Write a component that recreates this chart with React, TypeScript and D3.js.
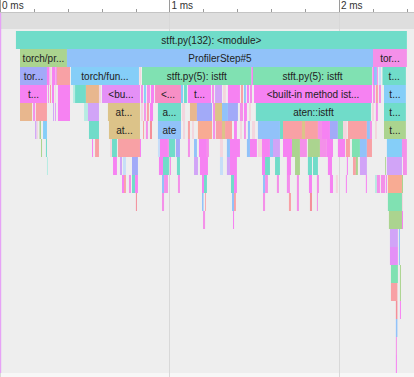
import React from "react";
import * as d3 from "d3";

// Time axis (microseconds) and ruler labels
const visibleRangeUs = [0, 2443];
const majorTicksMs = [0, 1, 2];
const tickLabels = ["0 ms", "1 ms", "2 ms"];
const minorStepMs = 0.2;

// Frame colour categories
const palette = [
  "#70dcc9", // 0 teal
  "#abd48f", // 1 olive
  "#91c2f9", // 2 blue
  "#f490e9", // 3 pink
  "#a2aaf8", // 4 lavender
  "#f682f2", // 5 magenta
  "#f8a1a5", // 6 salmon
  "#85cef8", // 7 light blue
  "#80e1b2", // 8 green
  "#e8b78e", // 9 tan
  "#e490f6", // 10 violet
  "#f78fc5", // 11 rose
  "#dcc389", // 12 khaki
  "#d1a4f7", // 13 lavender2
  "#f8ab93", // 14 salmon orange
  "#f3d6de", // 15 pale
  "#f48f9a", // 16 red
  "#c6def8", // 17 pale blue
  "#b6ece2", // 18 pale teal
];

// Frames per depth: [startUs, endUs, category, label]
type F = [number, number, number, string?];
const row0: F[] = [[94, 2401, 0, "stft.py(132): <module>"]];
const row1: F[] = [
  [118, 395, 1, "torch/pr..."],
  [395, 2201, 2, "ProfilerStep#5"],
  [2201, 2401, 3, "tor..."],
];
const row2: F[] = [
  [118, 277, 4, "tor..."], [277, 292, 5], [295, 304, 15], [307, 325, 5], [327, 336, 3],
  [336, 413, 6], [419, 820, 7, "torch/fun..."], [823, 832, 15],
  [838, 1484, 8, "stft.py(5): istft"], [1484, 1493, 5],
  [1493, 2195, 8, "stft.py(5): istft"], [2198, 2207, 5], [2207, 2224, 2],
  [2224, 2230, 3], [2236, 2248, 17], [2257, 2395, 0, "t..."],
];
const row3: F[] = [
  [118, 277, 5, "t..."], [283, 289, 3], [295, 301, 6], [307, 319, 5], [325, 330, 15],
  [342, 413, 5], [431, 443, 18], [443, 507, 0], [507, 584, 9], [584, 596, 15],
  [602, 826, 10, "<bu..."], [832, 844, 3], [850, 861, 7], [867, 885, 3], [891, 909, 5],
  [915, 1068, 11, "<..."], [1068, 1080, 7], [1086, 1103, 0], [1109, 1245, 5, "t..."],
  [1251, 1263, 3], [1269, 1310, 13], [1316, 1333, 15], [1345, 1416, 5], [1422, 1434, 6],
  [1440, 1451, 2], [1457, 1469, 5], [1475, 1487, 3],
  [1499, 2195, 5, "<built-in method ist..."], [2201, 2213, 3], [2218, 2230, 6],
  [2236, 2248, 3], [2266, 2395, 7, "t..."],
];
const row4: F[] = [
  [118, 189, 9], [195, 207, 3], [212, 277, 6], [313, 319, 13], [325, 330, 10],
  [342, 413, 5], [496, 519, 18], [519, 584, 13], [637, 826, 12, "at..."], [832, 844, 15],
  [850, 861, 3], [867, 879, 6], [885, 903, 5], [932, 1068, 0, "a..."], [1074, 1092, 15],
  [1121, 1162, 9], [1162, 1251, 4], [1257, 1269, 3], [1269, 1310, 12], [1310, 1345, 2],
  [1345, 1404, 4], [1416, 1434, 3], [1440, 1457, 5], [1469, 1481, 15],
  [1510, 2189, 0, "aten::istft"], [2195, 2207, 15], [2218, 2230, 3],
  [2266, 2395, 0, "t..."],
];
const row5: F[] = [
  [207, 215, 13], [218, 224, 15], [233, 242, 1], [254, 277, 7], [525, 584, 0],
  [643, 826, 12, "at..."], [844, 850, 6], [861, 873, 3], [885, 897, 16],
  [932, 1068, 2, "ate"], [1080, 1092, 15], [1109, 1121, 6], [1133, 1145, 15],
  [1168, 1251, 14], [1257, 1269, 3], [1274, 1310, 6], [1310, 1328, 12], [1328, 1369, 6],
  [1381, 1398, 5], [1416, 1428, 15], [1440, 1451, 3], [1463, 1475, 2], [1487, 1505, 15],
  [1522, 1652, 2], [1652, 1670, 0], [1670, 1782, 6], [1782, 1800, 12], [1800, 1876, 6],
  [1876, 1900, 3], [1900, 1947, 5], [1947, 1994, 4], [1994, 2024, 8], [2024, 2047, 15],
  [2053, 2165, 6], [2165, 2183, 2], [2183, 2195, 3], [2213, 2224, 15],
  [2266, 2395, 1, "t..."],
];
const row6: F[] = [
  [242, 248, 1], [271, 277, 0], [543, 549, 5], [561, 584, 6], [649, 661, 15],
  [661, 690, 0], [696, 826, 6], [826, 832, 5], [932, 944, 17], [944, 991, 5],
  [991, 997, 3], [997, 1033, 0], [1038, 1062, 4], [1109, 1121, 3], [1145, 1162, 2],
  [1174, 1221, 5], [1221, 1233, 3], [1298, 1316, 15], [1339, 1357, 2], [1357, 1416, 5],
  [1457, 1475, 2], [1475, 1516, 5], [1522, 1546, 15], [1546, 1593, 5], [1593, 1611, 2],
  [1611, 1652, 13], [1670, 1723, 5], [1723, 1770, 1], [1770, 1811, 3], [1817, 1888, 1],
  [1888, 1929, 3], [1929, 1965, 5], [1994, 2036, 5], [2041, 2065, 6], [2077, 2124, 8],
  [2124, 2165, 2], [2165, 2195, 6], [2283, 2372, 7], [2372, 2401, 3],
];
const row7: F[] = [
  [277, 283, 18], [667, 690, 5], [708, 720, 13], [726, 743, 17], [779, 814, 4],
  [938, 962, 5], [962, 997, 0], [1003, 1009, 3], [1044, 1062, 0], [1145, 1168, 13],
  [1180, 1227, 5], [1298, 1316, 17], [1339, 1357, 13], [1357, 1398, 5], [1546, 1564, 5],
  [1564, 1593, 0], [1623, 1652, 0], [1693, 1717, 5], [1741, 1770, 1], [1817, 1841, 0],
  [1847, 1876, 0], [1935, 1959, 5], [2047, 2053, 5], [2083, 2100, 6], [2100, 2112, 1],
  [2124, 2165, 13], [2272, 2277, 1], [2283, 2372, 13], [2378, 2401, 3],
];
const row8: F[] = [
  [720, 732, 5], [732, 743, 6], [761, 773, 3], [779, 797, 0], [797, 814, 5],
  [956, 968, 2], [968, 991, 3], [1050, 1062, 3], [1192, 1204, 5], [1204, 1221, 0],
  [1363, 1381, 0], [1381, 1398, 5], [1552, 1564, 2], [1564, 1581, 3], [1634, 1646, 3],
  [1693, 1699, 5], [1699, 1711, 3], [1752, 1764, 3], [1823, 1841, 5], [1870, 1882, 3],
  [1947, 1965, 5], [1982, 1994, 15], [2041, 2047, 5], [2159, 2165, 5], [2213, 2224, 18],
  [2224, 2242, 3], [2248, 2272, 3], [2277, 2283, 5], [2289, 2372, 14], [2372, 2378, 1],
];
const row9: F[] = [
  [802, 808, 16], [956, 968, 3], [1192, 1201, 2], [1210, 1215, 6], [1369, 1381, 2],
  [1381, 1392, 6], [1552, 1564, 3], [1705, 1717, 6], [1752, 1764, 3], [1829, 1841, 16],
  [1870, 1876, 3], [2289, 2372, 8], [2372, 2378, 15],
];
const row10: F[] = [[1198, 1210, 3], [1375, 1381, 5], [2295, 2372, 1], [2372, 2378, 5]];
const row11: F[] = [[2301, 2348, 13], [2354, 2360, 2]];
const row12: F[] = [[2301, 2348, 10], [2354, 2360, 2]];
const row13: F[] = [[2307, 2348, 8], [2360, 2366, 1]];
const row14: F[] = [[2307, 2345, 6], [2360, 2366, 1]];
const row15: F[] = [[2336, 2345, 16], [2360, 2366, 5]];
const row16: F[] = [[2336, 2345, 2]];
const row17: F[] = [[2336, 2342, 3]];
const row18: F[] = [[2336, 2342, 5]];

const rows: F[][] = [
  row0, row1, row2, row3, row4, row5, row6, row7, row8, row9,
  row10, row11, row12, row13, row14, row15, row16, row17, row18,
];

const W = 414;
const H = 377;
const FONT = "'Liberation Sans', Arial, Helvetica, sans-serif";

export default function App() {
  const x = d3.scaleLinear().domain(visibleRangeUs).range([0, W]);
  const rowH = 18;
  const top = 31;
  const y = d3.scaleLinear().domain([0, 1]).range([top, top + rowH]);
  const chartBottom = y(rows.length);
  const minor = d3.range(0, visibleRangeUs[1] / 1000, minorStepMs);

  return (
    <svg
      width={W}
      height={H}
      style={{ position: "fixed", left: 0, top: 0, display: "block" }}
      fontFamily={FONT}
    >
      <rect x={0} y={0} width={W} height={H} fill="#ffffff" />
      {/* chart background */}
      <rect x={0} y={13} width={W} height={16.5} fill="#dedede" />
      <rect x={0} y={29.5} width={W} height={chartBottom - 29.5} fill="#eeeeee" />
      <rect x={0} y={chartBottom} width={W} height={H - chartBottom} fill="#f7f7f7" />
      {/* grid lines */}
      {majorTicksMs.map((ms) => (
        <line
          key={"g" + ms}
          x1={Math.round(x(ms * 1000)) + 0.5}
          x2={Math.round(x(ms * 1000)) + 0.5}
          y1={13}
          y2={H}
          stroke="#d8d8d8"
          strokeWidth={1}
        />
      ))}
      {/* frames */}
      {rows.map((row, depth) =>
        row.map(([s, e, c, label], i) => {
          const x0 = x(s);
          const x1 = x(e);
          return (
            <g key={depth + "-" + i}>
              <rect x={x0} y={y(depth)} width={x1 - x0} height={rowH} fill={palette[c]} />
              {label ? (
                <text
                  x={(x0 + x1) / 2}
                  y={y(depth) + 12.5}
                  textAnchor="middle"
                  fontSize={10}
                  fill="#222"
                >
                  {label}
                </text>
              ) : null}
            </g>
          );
        })
      )}
      {/* left edge marker */}
      <rect x={0} y={13} width={1.2} height={chartBottom - 13} fill="#e6a2f6" />
      {/* ruler */}
      <line x1={0} x2={W} y1={12.5} y2={12.5} stroke="#c4c4c4" />
      {minor.map((ms, i) => (
        <line
          key={"m" + i}
          x1={Math.round(x(ms * 1000)) + 0.5}
          x2={Math.round(x(ms * 1000)) + 0.5}
          y1={9}
          y2={12}
          stroke="#9a9a9a"
        />
      ))}
      {majorTicksMs.map((ms, i) => (
        <g key={"t" + ms}>
          <line
            x1={Math.round(x(ms * 1000)) + 0.5}
            x2={Math.round(x(ms * 1000)) + 0.5}
            y1={0}
            y2={12}
            stroke="#9a9a9a"
          />
          <text x={x(ms * 1000) + 2} y={9} fontSize={10} fill="#333">
            {tickLabels[i]}
          </text>
        </g>
      ))}
    </svg>
  );
}
